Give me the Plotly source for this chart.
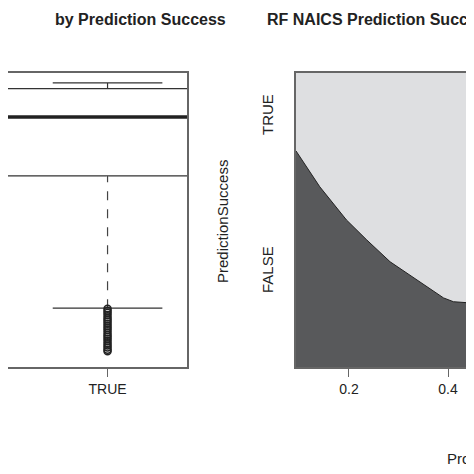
import plotly.graph_objects as go

# left panel: boxplot of probability for TRUE predictions
box_q1 = 0.643
box_median = 0.847
box_q3 = 0.946
box_lower = 0.184
box_upper = 0.966
outliers = [0.182, 0.175, 0.168, 0.160, 0.152, 0.145, 0.138, 0.130, 0.122, 0.115,
            0.108, 0.100, 0.092, 0.085, 0.078, 0.070, 0.062, 0.055, 0.048, 0.040, 0.035]

# right panel: conditional density of PredictionSuccess
prob_x = [0.093, 0.141, 0.195, 0.236, 0.283, 0.344, 0.391, 0.411, 0.453]
false_share = [0.735, 0.613, 0.500, 0.432, 0.358, 0.290, 0.235, 0.222, 0.217]

OFF = 8  # page body margin shifts the figure, compensate


def px(v):
    return (v - OFF) / 474


def py(v):
    return 1 - (v - OFF) / 474


fig = go.Figure()
fig.add_trace(go.Box(x=[2], q1=[box_q1], median=[box_median], q3=[box_q3],
                     lowerfence=[box_lower], upperfence=[box_upper], width=1.38,
                     whiskerwidth=0.5, fillcolor="white", line=dict(color="#333", width=1.2),
                     boxpoints=False, xaxis="x", yaxis="y", showlegend=False))
# thick median and dashed lower whisker, R style
fig.add_trace(go.Scatter(x=[1.31, 2.69], y=[box_median, box_median], mode="lines",
                         line=dict(color="#222", width=3.5), xaxis="x", yaxis="y", showlegend=False))
fig.add_trace(go.Scatter(x=[2, 2], y=[box_lower + 0.003, box_q1 - 0.003], mode="lines",
                         line=dict(color="white", width=3), xaxis="x", yaxis="y", showlegend=False))
fig.add_trace(go.Scatter(x=[2, 2], y=[box_lower, box_q1], mode="lines",
                         line=dict(color="#444", width=1.2, dash="dash"), xaxis="x", yaxis="y", showlegend=False))
fig.add_trace(go.Scatter(x=[2] * len(outliers), y=outliers, mode="markers",
                         marker=dict(symbol="circle-open", size=7, color="#222", line=dict(width=1.5)),
                         xaxis="x", yaxis="y", showlegend=False))
fig.add_trace(go.Scatter(x=prob_x, y=[1] * len(prob_x), fill="tozeroy", mode="lines",
                         line=dict(width=0), fillcolor="#dedfe1", xaxis="x2", yaxis="y2", showlegend=False))
fig.add_trace(go.Scatter(x=prob_x, y=false_share, fill="tozeroy", mode="lines",
                         line=dict(color="#222", width=1), fillcolor="#58595b",
                         xaxis="x2", yaxis="y2", showlegend=False))

ydom = [py(367), py(73)]
ax = dict(showgrid=False, zeroline=False, showline=True, linecolor="#666", linewidth=1.5,
          ticks="outside", ticklen=8, tickcolor="#666", tickfont=dict(size=14, color="#222"))
fig.update_layout(
    width=474, height=474, autosize=False, margin=dict(l=0, r=0, t=0, b=0),
    plot_bgcolor="white", paper_bgcolor="white",
    font=dict(family="Liberation Sans, Arial, sans-serif", color="#222"),
    xaxis=dict(ax, domain=[0, px(187)], range=[1.31 + OFF / 126, 2.5], tickvals=[2], ticktext=["TRUE"], mirror=True),
    yaxis=dict(ax, domain=ydom, range=[-0.02, 1.0], side="right", showticklabels=False, ticks=""),
    xaxis2=dict(ax, domain=[px(296), 1], range=[0.093, 0.4525 + OFF / 495], tickvals=[0.2, 0.4],
                mirror=True, anchor="y2"),
    yaxis2=dict(ax, domain=ydom, range=[0, 1], showticklabels=False, ticks="", anchor="x2"),
)
anns = [
    dict(x=px(228), y=py(19), text="<b>by Prediction Success</b>", xanchor="right", font=dict(size=16)),
    dict(x=px(265), y=py(19), text="<b>RF NAICS Prediction Success</b>", xanchor="left", font=dict(size=16)),
    dict(x=px(267), y=py(115), text="TRUE", textangle=-90, font=dict(size=15)),
    dict(x=px(267), y=py(270), text="FALSE", textangle=-90, font=dict(size=15)),
    dict(x=px(222), y=py(222), text="PredictionSuccess", textangle=-90, font=dict(size=15)),
    dict(x=px(445), y=py(458), text="Probability", xanchor="left", font=dict(size=15)),
]
for a in anns:
    fig.add_annotation(xref="paper", yref="paper", showarrow=False, yanchor="middle", **a)

fig.write_html("out.html")
